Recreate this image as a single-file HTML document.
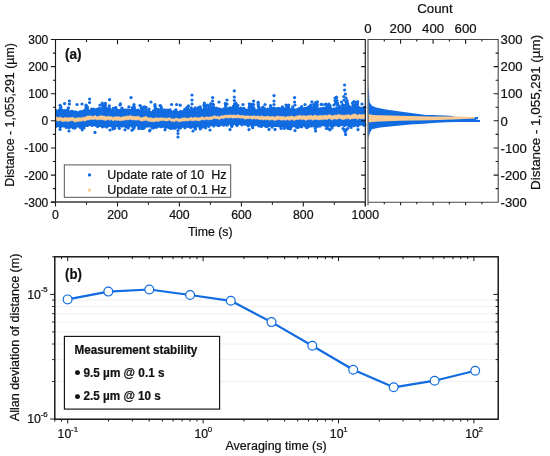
<!DOCTYPE html>
<html lang="en"><head><meta charset="utf-8"><title>Figure</title>
<style>
html,body{margin:0;padding:0;background:#fff;}
body{width:550px;height:456px;overflow:hidden;}
svg{display:block;font-family:"Liberation Sans", sans-serif;}
text{fill:#111;stroke:#111;stroke-width:0.22px;}
.t12{font-size:12px;}
.b{font-weight:bold;}
</style></head><body>
<svg width="550" height="456" viewBox="0 0 550 456">
<rect width="550" height="456" fill="#fff"/>

<clipPath id="ca"><rect x="55.5" y="39.5" width="311.3" height="162.7"/></clipPath>
<g clip-path="url(#ca)">
<polygon points="56.0,110.9 57.5,110.7 59.0,110.8 60.5,111.0 62.0,111.0 63.5,111.5 65.0,111.1 66.5,111.7 68.0,111.8 69.5,111.7 71.0,112.0 72.5,112.0 74.0,111.9 75.5,112.4 77.0,111.9 78.5,112.2 80.0,112.4 81.5,112.1 83.0,111.2 84.5,111.2 86.0,110.9 87.5,111.1 89.0,110.6 90.5,109.9 92.0,109.7 93.5,109.7 95.0,110.5 96.5,109.9 98.0,109.9 99.5,110.5 101.0,110.2 102.5,110.4 104.0,110.3 105.5,110.8 107.0,111.0 108.5,111.1 110.0,111.3 111.5,111.5 113.0,110.8 114.5,111.2 116.0,111.6 117.5,110.8 119.0,111.4 120.5,110.9 122.0,110.5 123.5,110.6 125.0,110.7 126.5,110.8 128.0,110.7 129.5,110.9 131.0,110.1 132.5,110.1 134.0,110.3 135.5,110.7 137.0,111.1 138.5,110.8 140.0,110.7 141.5,110.8 143.0,110.9 144.5,111.0 146.0,111.4 147.5,111.2 149.0,111.5 150.5,111.7 152.0,112.1 153.5,111.5 155.0,111.9 156.5,111.5 158.0,111.6 159.5,111.7 161.0,111.7 162.5,111.5 164.0,112.0 165.5,111.6 167.0,112.3 168.5,112.6 170.0,112.2 171.5,112.4 173.0,111.9 174.5,111.8 176.0,112.1 177.5,111.7 179.0,111.8 180.5,112.0 182.0,112.1 183.5,112.1 185.0,111.6 186.5,111.7 188.0,111.6 189.5,111.7 191.0,111.9 192.5,111.0 194.0,111.3 195.5,111.8 197.0,111.2 198.5,111.5 200.0,110.9 201.5,110.5 203.0,110.4 204.5,110.5 206.0,110.3 207.5,110.2 209.0,110.2 210.5,110.2 212.0,110.2 213.5,110.0 215.0,110.0 216.5,110.3 218.0,109.4 219.5,109.9 221.0,110.0 222.5,109.6 224.0,109.4 225.5,109.1 227.0,109.6 228.5,109.0 230.0,108.5 231.5,109.1 233.0,108.6 234.5,108.6 236.0,108.9 237.5,109.3 239.0,109.3 240.5,108.7 242.0,109.7 243.5,108.9 245.0,109.3 246.5,109.8 248.0,109.1 249.5,109.5 251.0,109.2 252.5,109.7 254.0,110.1 255.5,109.7 257.0,110.0 258.5,109.7 260.0,109.6 261.5,109.9 263.0,109.5 264.5,108.9 266.0,109.7 267.5,109.6 269.0,108.7 270.5,109.6 272.0,109.5 273.5,108.9 275.0,109.0 276.5,109.1 278.0,109.0 279.5,109.2 281.0,109.5 282.5,109.2 284.0,109.6 285.5,109.3 287.0,109.4 288.5,109.1 290.0,109.7 291.5,109.4 293.0,109.1 294.5,109.2 296.0,109.4 297.5,108.7 299.0,109.2 300.5,109.2 302.0,108.8 303.5,108.7 305.0,109.0 306.5,109.0 308.0,109.4 309.5,109.3 311.0,109.2 312.5,108.6 314.0,108.5 315.5,108.9 317.0,109.2 318.5,109.0 320.0,109.1 321.5,108.5 323.0,108.8 324.5,108.4 326.0,108.5 327.5,108.3 329.0,108.2 330.5,108.7 332.0,109.0 333.5,108.4 335.0,108.5 336.5,108.5 338.0,108.2 339.5,108.6 341.0,108.0 342.5,108.1 344.0,108.3 345.5,107.9 347.0,107.9 348.5,108.5 350.0,108.3 351.5,107.8 353.0,107.7 354.5,107.6 356.0,108.1 357.5,108.3 359.0,108.1 360.5,107.5 362.0,107.8 363.5,108.1 365.0,107.9 365.0,124.2 363.5,124.6 362.0,124.3 360.5,125.0 359.0,125.1 357.5,125.3 356.0,124.7 354.5,125.1 353.0,125.4 351.5,125.1 350.0,125.3 348.5,125.1 347.0,125.3 345.5,125.5 344.0,125.0 342.5,125.4 341.0,124.8 339.5,124.7 338.0,125.1 336.5,125.3 335.0,125.8 333.5,125.1 332.0,125.7 330.5,125.5 329.0,125.6 327.5,125.6 326.0,125.2 324.5,125.7 323.0,125.5 321.5,125.1 320.0,125.4 318.5,125.6 317.0,125.3 315.5,125.8 314.0,125.4 312.5,125.5 311.0,125.4 309.5,125.5 308.0,126.1 306.5,125.4 305.0,125.4 303.5,125.8 302.0,126.2 300.5,125.9 299.0,125.8 297.5,126.4 296.0,126.5 294.5,126.0 293.0,126.5 291.5,126.5 290.0,126.7 288.5,126.2 287.0,126.4 285.5,126.7 284.0,126.0 282.5,126.2 281.0,126.1 279.5,126.2 278.0,126.5 276.5,126.3 275.0,126.2 273.5,125.9 272.0,126.5 270.5,126.1 269.0,125.8 267.5,125.6 266.0,125.9 264.5,126.2 263.0,125.6 261.5,125.8 260.0,125.2 258.5,125.2 257.0,125.0 255.5,125.4 254.0,125.3 252.5,125.4 251.0,125.1 249.5,124.6 248.0,125.2 246.5,124.9 245.0,125.0 243.5,124.5 242.0,124.2 240.5,124.2 239.0,124.2 237.5,124.8 236.0,123.9 234.5,124.0 233.0,123.8 231.5,124.3 230.0,124.0 228.5,124.0 227.0,124.6 225.5,124.4 224.0,124.6 222.5,124.9 221.0,124.9 219.5,124.8 218.0,125.0 216.5,125.4 215.0,125.3 213.5,125.3 212.0,125.5 210.5,125.1 209.0,125.7 207.5,125.3 206.0,125.5 204.5,126.2 203.0,126.5 201.5,126.4 200.0,126.7 198.5,126.1 197.0,126.2 195.5,126.8 194.0,126.5 192.5,126.7 191.0,126.8 189.5,126.5 188.0,127.2 186.5,126.6 185.0,127.2 183.5,126.9 182.0,126.7 180.5,127.1 179.0,127.5 177.5,127.5 176.0,126.9 174.5,127.7 173.0,126.9 171.5,127.7 170.0,127.6 168.5,126.9 167.0,127.4 165.5,126.8 164.0,126.7 162.5,127.1 161.0,127.6 159.5,126.9 158.0,126.7 156.5,126.7 155.0,127.3 153.5,127.4 152.0,127.1 150.5,126.5 149.0,126.7 147.5,126.5 146.0,126.8 144.5,127.0 143.0,126.1 141.5,126.3 140.0,126.1 138.5,126.3 137.0,125.6 135.5,126.0 134.0,126.3 132.5,125.9 131.0,125.6 129.5,125.4 128.0,125.7 126.5,126.2 125.0,125.6 123.5,126.0 122.0,125.5 120.5,126.1 119.0,126.0 117.5,126.4 116.0,126.3 114.5,126.0 113.0,126.7 111.5,126.5 110.0,126.0 108.5,126.5 107.0,126.5 105.5,126.5 104.0,125.5 102.5,126.2 101.0,126.0 99.5,126.1 98.0,126.0 96.5,125.3 95.0,125.9 93.5,125.0 92.0,124.8 90.5,125.3 89.0,125.3 87.5,126.2 86.0,126.3 84.5,126.5 83.0,126.4 81.5,126.7 80.0,126.8 78.5,126.8 77.0,126.8 75.5,127.4 74.0,127.2 72.5,127.1 71.0,127.3 69.5,127.2 68.0,126.9 66.5,126.8 65.0,126.4 63.5,126.8 62.0,126.2 60.5,126.6 59.0,126.0 57.5,126.3 56.0,125.9" fill="#116be1" stroke="#116be1" stroke-width="1.6" stroke-linejoin="round"/>
<g fill="#116be1">
<circle cx="131.0" cy="97.6" r="1.6"/>
<circle cx="89.6" cy="99.0" r="1.6"/>
<circle cx="89.6" cy="102.5" r="1.6"/>
<circle cx="109.6" cy="99.6" r="1.6"/>
<circle cx="69.4" cy="101.0" r="1.6"/>
<circle cx="69.4" cy="104.0" r="1.6"/>
<circle cx="64.6" cy="103.6" r="1.6"/>
<circle cx="151.0" cy="102.0" r="1.6"/>
<circle cx="82.0" cy="104.0" r="1.6"/>
<circle cx="77.0" cy="104.5" r="1.6"/>
<circle cx="100.0" cy="105.0" r="1.6"/>
<circle cx="120.0" cy="105.0" r="1.6"/>
<circle cx="140.0" cy="105.5" r="1.6"/>
<circle cx="192.0" cy="95.0" r="1.6"/>
<circle cx="192.0" cy="100.0" r="1.6"/>
<circle cx="192.0" cy="104.0" r="1.6"/>
<circle cx="212.6" cy="97.6" r="1.6"/>
<circle cx="212.6" cy="101.0" r="1.6"/>
<circle cx="213.0" cy="104.5" r="1.6"/>
<circle cx="219.0" cy="102.0" r="1.6"/>
<circle cx="227.0" cy="100.0" r="1.6"/>
<circle cx="227.0" cy="104.0" r="1.6"/>
<circle cx="234.3" cy="90.8" r="1.6"/>
<circle cx="234.3" cy="97.0" r="1.6"/>
<circle cx="234.3" cy="100.5" r="1.6"/>
<circle cx="234.5" cy="104.0" r="1.6"/>
<circle cx="253.6" cy="101.0" r="1.6"/>
<circle cx="253.6" cy="104.5" r="1.6"/>
<circle cx="171.6" cy="104.5" r="1.6"/>
<circle cx="176.6" cy="104.5" r="1.6"/>
<circle cx="160.0" cy="105.5" r="1.6"/>
<circle cx="204.0" cy="105.0" r="1.6"/>
<circle cx="243.0" cy="104.5" r="1.6"/>
<circle cx="274.0" cy="95.6" r="1.6"/>
<circle cx="274.0" cy="101.0" r="1.6"/>
<circle cx="274.0" cy="104.5" r="1.6"/>
<circle cx="294.6" cy="97.6" r="1.6"/>
<circle cx="294.6" cy="102.0" r="1.6"/>
<circle cx="295.0" cy="105.0" r="1.6"/>
<circle cx="315.6" cy="102.5" r="1.6"/>
<circle cx="315.6" cy="105.0" r="1.6"/>
<circle cx="336.6" cy="97.0" r="1.6"/>
<circle cx="336.6" cy="101.0" r="1.6"/>
<circle cx="337.0" cy="104.5" r="1.6"/>
<circle cx="344.6" cy="85.0" r="1.6"/>
<circle cx="344.6" cy="90.0" r="1.6"/>
<circle cx="345.4" cy="94.0" r="1.6"/>
<circle cx="346.0" cy="98.0" r="1.6"/>
<circle cx="346.0" cy="102.0" r="1.6"/>
<circle cx="345.5" cy="105.0" r="1.6"/>
<circle cx="286.0" cy="105.0" r="1.6"/>
<circle cx="354.0" cy="102.0" r="1.6"/>
<circle cx="357.6" cy="102.0" r="1.6"/>
<circle cx="354.0" cy="105.0" r="1.6"/>
<circle cx="362.0" cy="104.0" r="1.6"/>
<circle cx="325.0" cy="104.5" r="1.6"/>
<circle cx="305.0" cy="104.5" r="1.6"/>
<circle cx="265.0" cy="104.5" r="1.6"/>
<circle cx="335.0" cy="98.0" r="1.6"/>
<circle cx="336.5" cy="97.5" r="1.6"/>
<circle cx="335.0" cy="100.5" r="1.6"/>
<circle cx="337.0" cy="100.5" r="1.6"/>
<circle cx="335.5" cy="103.0" r="1.6"/>
<circle cx="337.5" cy="103.0" r="1.6"/>
<circle cx="334.0" cy="105.0" r="1.6"/>
<circle cx="338.0" cy="105.0" r="1.6"/>
<circle cx="341.5" cy="102.0" r="1.6"/>
<circle cx="342.5" cy="104.5" r="1.6"/>
<circle cx="344.0" cy="100.0" r="1.6"/>
<circle cx="347.0" cy="100.5" r="1.6"/>
<circle cx="347.5" cy="103.5" r="1.6"/>
<circle cx="343.8" cy="96.5" r="1.6"/>
<circle cx="352.5" cy="103.0" r="1.6"/>
<circle cx="354.0" cy="101.5" r="1.6"/>
<circle cx="356.0" cy="102.5" r="1.6"/>
<circle cx="357.5" cy="101.8" r="1.6"/>
<circle cx="353.0" cy="105.0" r="1.6"/>
<circle cx="356.5" cy="105.0" r="1.6"/>
<circle cx="326.0" cy="104.0" r="1.6"/>
<circle cx="327.5" cy="105.5" r="1.6"/>
<circle cx="322.0" cy="104.5" r="1.6"/>
<circle cx="330.0" cy="105.5" r="1.6"/>
<circle cx="344.0" cy="129.5" r="1.6"/>
<circle cx="345.0" cy="131.5" r="1.6"/>
<circle cx="346.5" cy="129.5" r="1.6"/>
<circle cx="343.0" cy="128.5" r="1.6"/>
<circle cx="347.5" cy="128.5" r="1.6"/>
<circle cx="326.5" cy="128.5" r="1.6"/>
<circle cx="329.0" cy="129.0" r="1.6"/>
<circle cx="95.0" cy="132.4" r="1.6"/>
<circle cx="69.0" cy="131.0" r="1.6"/>
<circle cx="125.0" cy="129.8" r="1.6"/>
<circle cx="132.0" cy="130.2" r="1.6"/>
<circle cx="178.0" cy="137.0" r="1.6"/>
<circle cx="178.0" cy="133.5" r="1.6"/>
<circle cx="178.0" cy="130.5" r="1.6"/>
<circle cx="193.0" cy="131.0" r="1.6"/>
<circle cx="249.0" cy="129.6" r="1.6"/>
<circle cx="345.6" cy="134.4" r="1.6"/>
<circle cx="345.6" cy="131.0" r="1.6"/>
<circle cx="295.0" cy="130.6" r="1.6"/>
<circle cx="315.6" cy="131.0" r="1.6"/>
<circle cx="269.0" cy="129.4" r="1.6"/>
<circle cx="275.0" cy="129.4" r="1.6"/>
<circle cx="110.0" cy="130.0" r="1.6"/>
<circle cx="150.0" cy="130.0" r="1.6"/>
<circle cx="165.0" cy="129.8" r="1.6"/>
<circle cx="210.0" cy="130.0" r="1.6"/>
<circle cx="230.0" cy="129.6" r="1.6"/>
<circle cx="330.0" cy="129.8" r="1.6"/>
<circle cx="358.0" cy="129.6" r="1.6"/>
<circle cx="60.0" cy="129.5" r="1.6"/>
<circle cx="55.7" cy="110.3" r="1.6"/>
<circle cx="55.9" cy="126.5" r="1.6"/>
<circle cx="59.3" cy="110.2" r="1.6"/>
<circle cx="60.6" cy="110.4" r="1.6"/>
<circle cx="60.4" cy="108.7" r="1.6"/>
<circle cx="60.9" cy="107.0" r="1.6"/>
<circle cx="60.1" cy="105.3" r="1.6"/>
<circle cx="60.3" cy="127.2" r="1.6"/>
<circle cx="62.3" cy="110.4" r="1.6"/>
<circle cx="63.5" cy="110.9" r="1.6"/>
<circle cx="64.9" cy="110.5" r="1.6"/>
<circle cx="66.7" cy="111.1" r="1.6"/>
<circle cx="66.3" cy="127.4" r="1.6"/>
<circle cx="68.2" cy="111.2" r="1.6"/>
<circle cx="67.8" cy="109.5" r="1.6"/>
<circle cx="68.4" cy="107.8" r="1.6"/>
<circle cx="69.1" cy="127.8" r="1.6"/>
<circle cx="71.3" cy="111.4" r="1.6"/>
<circle cx="72.5" cy="111.4" r="1.6"/>
<circle cx="72.9" cy="127.7" r="1.6"/>
<circle cx="74.1" cy="127.8" r="1.6"/>
<circle cx="75.4" cy="111.8" r="1.6"/>
<circle cx="75.1" cy="128.0" r="1.6"/>
<circle cx="80.0" cy="111.8" r="1.6"/>
<circle cx="80.3" cy="127.4" r="1.6"/>
<circle cx="81.4" cy="111.5" r="1.6"/>
<circle cx="81.9" cy="127.3" r="1.6"/>
<circle cx="84.1" cy="110.6" r="1.6"/>
<circle cx="86.2" cy="110.3" r="1.6"/>
<circle cx="86.0" cy="108.6" r="1.6"/>
<circle cx="86.1" cy="106.9" r="1.6"/>
<circle cx="86.1" cy="105.2" r="1.6"/>
<circle cx="87.7" cy="110.5" r="1.6"/>
<circle cx="87.4" cy="108.8" r="1.6"/>
<circle cx="87.4" cy="107.1" r="1.6"/>
<circle cx="91.6" cy="109.1" r="1.6"/>
<circle cx="92.1" cy="125.4" r="1.6"/>
<circle cx="93.4" cy="109.1" r="1.6"/>
<circle cx="95.0" cy="109.9" r="1.6"/>
<circle cx="96.8" cy="109.3" r="1.6"/>
<circle cx="97.7" cy="109.3" r="1.6"/>
<circle cx="97.6" cy="126.6" r="1.6"/>
<circle cx="99.7" cy="109.9" r="1.6"/>
<circle cx="99.3" cy="108.2" r="1.6"/>
<circle cx="101.2" cy="109.6" r="1.6"/>
<circle cx="102.8" cy="109.8" r="1.6"/>
<circle cx="102.7" cy="108.1" r="1.6"/>
<circle cx="102.8" cy="106.4" r="1.6"/>
<circle cx="102.7" cy="104.7" r="1.6"/>
<circle cx="102.3" cy="103.0" r="1.6"/>
<circle cx="102.4" cy="126.8" r="1.6"/>
<circle cx="103.8" cy="109.7" r="1.6"/>
<circle cx="104.4" cy="126.1" r="1.6"/>
<circle cx="105.9" cy="110.2" r="1.6"/>
<circle cx="105.4" cy="108.5" r="1.6"/>
<circle cx="105.3" cy="106.8" r="1.6"/>
<circle cx="105.3" cy="105.1" r="1.6"/>
<circle cx="105.3" cy="103.4" r="1.6"/>
<circle cx="107.0" cy="110.4" r="1.6"/>
<circle cx="107.1" cy="108.7" r="1.6"/>
<circle cx="106.7" cy="127.1" r="1.6"/>
<circle cx="108.7" cy="110.5" r="1.6"/>
<circle cx="108.5" cy="108.8" r="1.6"/>
<circle cx="110.4" cy="110.7" r="1.6"/>
<circle cx="109.9" cy="109.0" r="1.6"/>
<circle cx="112.7" cy="110.2" r="1.6"/>
<circle cx="113.3" cy="108.5" r="1.6"/>
<circle cx="113.1" cy="127.3" r="1.6"/>
<circle cx="112.9" cy="129.0" r="1.6"/>
<circle cx="114.6" cy="126.6" r="1.6"/>
<circle cx="114.5" cy="128.3" r="1.6"/>
<circle cx="116.3" cy="111.0" r="1.6"/>
<circle cx="115.8" cy="109.3" r="1.6"/>
<circle cx="115.8" cy="107.6" r="1.6"/>
<circle cx="117.4" cy="110.2" r="1.6"/>
<circle cx="119.1" cy="110.8" r="1.6"/>
<circle cx="118.9" cy="126.6" r="1.6"/>
<circle cx="119.3" cy="128.3" r="1.6"/>
<circle cx="120.1" cy="110.3" r="1.6"/>
<circle cx="121.7" cy="109.9" r="1.6"/>
<circle cx="122.0" cy="108.2" r="1.6"/>
<circle cx="122.0" cy="126.1" r="1.6"/>
<circle cx="123.7" cy="110.0" r="1.6"/>
<circle cx="125.2" cy="110.1" r="1.6"/>
<circle cx="125.0" cy="126.2" r="1.6"/>
<circle cx="126.6" cy="110.2" r="1.6"/>
<circle cx="126.5" cy="126.8" r="1.6"/>
<circle cx="128.0" cy="110.1" r="1.6"/>
<circle cx="128.2" cy="126.3" r="1.6"/>
<circle cx="128.3" cy="128.0" r="1.6"/>
<circle cx="129.9" cy="110.3" r="1.6"/>
<circle cx="129.2" cy="126.0" r="1.6"/>
<circle cx="132.8" cy="109.5" r="1.6"/>
<circle cx="132.2" cy="107.8" r="1.6"/>
<circle cx="132.6" cy="126.5" r="1.6"/>
<circle cx="133.8" cy="109.7" r="1.6"/>
<circle cx="134.4" cy="108.0" r="1.6"/>
<circle cx="133.9" cy="106.3" r="1.6"/>
<circle cx="134.0" cy="104.6" r="1.6"/>
<circle cx="134.3" cy="126.9" r="1.6"/>
<circle cx="133.7" cy="128.6" r="1.6"/>
<circle cx="135.3" cy="110.1" r="1.6"/>
<circle cx="137.0" cy="110.5" r="1.6"/>
<circle cx="138.2" cy="110.2" r="1.6"/>
<circle cx="138.7" cy="126.9" r="1.6"/>
<circle cx="138.9" cy="128.6" r="1.6"/>
<circle cx="139.8" cy="126.7" r="1.6"/>
<circle cx="141.8" cy="110.2" r="1.6"/>
<circle cx="141.3" cy="108.5" r="1.6"/>
<circle cx="141.2" cy="106.8" r="1.6"/>
<circle cx="141.6" cy="126.9" r="1.6"/>
<circle cx="141.7" cy="128.6" r="1.6"/>
<circle cx="142.9" cy="110.3" r="1.6"/>
<circle cx="142.7" cy="108.6" r="1.6"/>
<circle cx="143.1" cy="126.7" r="1.6"/>
<circle cx="143.2" cy="128.4" r="1.6"/>
<circle cx="144.5" cy="127.6" r="1.6"/>
<circle cx="145.8" cy="110.8" r="1.6"/>
<circle cx="145.7" cy="109.1" r="1.6"/>
<circle cx="146.0" cy="107.4" r="1.6"/>
<circle cx="148.8" cy="110.9" r="1.6"/>
<circle cx="149.0" cy="109.2" r="1.6"/>
<circle cx="152.3" cy="127.7" r="1.6"/>
<circle cx="153.5" cy="110.9" r="1.6"/>
<circle cx="153.4" cy="128.0" r="1.6"/>
<circle cx="154.9" cy="111.3" r="1.6"/>
<circle cx="155.3" cy="109.6" r="1.6"/>
<circle cx="155.2" cy="107.9" r="1.6"/>
<circle cx="155.1" cy="106.2" r="1.6"/>
<circle cx="154.9" cy="104.5" r="1.6"/>
<circle cx="156.3" cy="127.3" r="1.6"/>
<circle cx="158.3" cy="111.0" r="1.6"/>
<circle cx="158.1" cy="109.3" r="1.6"/>
<circle cx="159.2" cy="111.1" r="1.6"/>
<circle cx="161.0" cy="111.1" r="1.6"/>
<circle cx="160.8" cy="109.4" r="1.6"/>
<circle cx="161.4" cy="107.7" r="1.6"/>
<circle cx="160.8" cy="106.0" r="1.6"/>
<circle cx="162.5" cy="110.9" r="1.6"/>
<circle cx="163.7" cy="111.4" r="1.6"/>
<circle cx="165.3" cy="111.0" r="1.6"/>
<circle cx="165.5" cy="127.4" r="1.6"/>
<circle cx="167.3" cy="111.7" r="1.6"/>
<circle cx="166.9" cy="110.0" r="1.6"/>
<circle cx="168.6" cy="112.0" r="1.6"/>
<circle cx="168.1" cy="110.3" r="1.6"/>
<circle cx="168.8" cy="127.5" r="1.6"/>
<circle cx="169.7" cy="111.6" r="1.6"/>
<circle cx="170.0" cy="109.9" r="1.6"/>
<circle cx="170.3" cy="128.2" r="1.6"/>
<circle cx="171.8" cy="111.8" r="1.6"/>
<circle cx="171.7" cy="128.3" r="1.6"/>
<circle cx="174.6" cy="111.2" r="1.6"/>
<circle cx="174.6" cy="128.3" r="1.6"/>
<circle cx="176.2" cy="111.5" r="1.6"/>
<circle cx="176.0" cy="109.8" r="1.6"/>
<circle cx="176.1" cy="127.5" r="1.6"/>
<circle cx="179.4" cy="128.1" r="1.6"/>
<circle cx="180.6" cy="111.4" r="1.6"/>
<circle cx="180.6" cy="127.7" r="1.6"/>
<circle cx="183.1" cy="111.5" r="1.6"/>
<circle cx="185.1" cy="111.0" r="1.6"/>
<circle cx="184.8" cy="109.3" r="1.6"/>
<circle cx="185.0" cy="127.8" r="1.6"/>
<circle cx="186.3" cy="111.1" r="1.6"/>
<circle cx="186.9" cy="109.4" r="1.6"/>
<circle cx="186.8" cy="107.7" r="1.6"/>
<circle cx="188.0" cy="111.0" r="1.6"/>
<circle cx="187.8" cy="109.3" r="1.6"/>
<circle cx="187.8" cy="107.6" r="1.6"/>
<circle cx="188.4" cy="105.9" r="1.6"/>
<circle cx="189.9" cy="111.1" r="1.6"/>
<circle cx="191.2" cy="111.3" r="1.6"/>
<circle cx="190.8" cy="109.6" r="1.6"/>
<circle cx="191.3" cy="107.9" r="1.6"/>
<circle cx="190.6" cy="127.4" r="1.6"/>
<circle cx="192.3" cy="110.4" r="1.6"/>
<circle cx="193.6" cy="110.7" r="1.6"/>
<circle cx="194.2" cy="109.0" r="1.6"/>
<circle cx="193.7" cy="127.1" r="1.6"/>
<circle cx="195.3" cy="111.2" r="1.6"/>
<circle cx="195.4" cy="109.5" r="1.6"/>
<circle cx="195.4" cy="107.8" r="1.6"/>
<circle cx="195.6" cy="127.4" r="1.6"/>
<circle cx="195.4" cy="129.1" r="1.6"/>
<circle cx="198.3" cy="110.9" r="1.6"/>
<circle cx="198.3" cy="109.2" r="1.6"/>
<circle cx="198.5" cy="107.5" r="1.6"/>
<circle cx="200.2" cy="110.3" r="1.6"/>
<circle cx="200.1" cy="108.6" r="1.6"/>
<circle cx="200.3" cy="106.9" r="1.6"/>
<circle cx="200.0" cy="127.3" r="1.6"/>
<circle cx="200.2" cy="129.0" r="1.6"/>
<circle cx="201.7" cy="109.9" r="1.6"/>
<circle cx="201.3" cy="127.0" r="1.6"/>
<circle cx="202.9" cy="127.1" r="1.6"/>
<circle cx="204.3" cy="109.9" r="1.6"/>
<circle cx="204.6" cy="108.2" r="1.6"/>
<circle cx="204.3" cy="106.5" r="1.6"/>
<circle cx="204.5" cy="104.8" r="1.6"/>
<circle cx="204.4" cy="103.1" r="1.6"/>
<circle cx="206.0" cy="109.7" r="1.6"/>
<circle cx="205.8" cy="108.0" r="1.6"/>
<circle cx="206.3" cy="106.3" r="1.6"/>
<circle cx="206.0" cy="126.1" r="1.6"/>
<circle cx="205.7" cy="127.8" r="1.6"/>
<circle cx="207.2" cy="109.6" r="1.6"/>
<circle cx="209.2" cy="109.6" r="1.6"/>
<circle cx="208.9" cy="107.9" r="1.6"/>
<circle cx="208.9" cy="106.2" r="1.6"/>
<circle cx="208.9" cy="126.3" r="1.6"/>
<circle cx="210.9" cy="109.6" r="1.6"/>
<circle cx="211.8" cy="109.6" r="1.6"/>
<circle cx="211.8" cy="107.9" r="1.6"/>
<circle cx="213.8" cy="109.4" r="1.6"/>
<circle cx="213.8" cy="107.7" r="1.6"/>
<circle cx="213.1" cy="106.0" r="1.6"/>
<circle cx="213.1" cy="104.3" r="1.6"/>
<circle cx="213.8" cy="125.9" r="1.6"/>
<circle cx="216.9" cy="109.7" r="1.6"/>
<circle cx="216.3" cy="108.0" r="1.6"/>
<circle cx="218.4" cy="108.8" r="1.6"/>
<circle cx="218.1" cy="125.6" r="1.6"/>
<circle cx="219.1" cy="109.3" r="1.6"/>
<circle cx="219.3" cy="125.4" r="1.6"/>
<circle cx="220.7" cy="109.4" r="1.6"/>
<circle cx="223.8" cy="108.8" r="1.6"/>
<circle cx="223.6" cy="125.2" r="1.6"/>
<circle cx="225.6" cy="108.5" r="1.6"/>
<circle cx="225.8" cy="106.8" r="1.6"/>
<circle cx="225.5" cy="105.1" r="1.6"/>
<circle cx="225.3" cy="103.4" r="1.6"/>
<circle cx="226.6" cy="109.0" r="1.6"/>
<circle cx="227.1" cy="125.2" r="1.6"/>
<circle cx="228.8" cy="108.4" r="1.6"/>
<circle cx="230.1" cy="107.9" r="1.6"/>
<circle cx="231.3" cy="108.5" r="1.6"/>
<circle cx="231.3" cy="124.9" r="1.6"/>
<circle cx="231.8" cy="126.6" r="1.6"/>
<circle cx="232.8" cy="108.0" r="1.6"/>
<circle cx="233.4" cy="106.3" r="1.6"/>
<circle cx="232.7" cy="124.4" r="1.6"/>
<circle cx="234.9" cy="108.0" r="1.6"/>
<circle cx="235.7" cy="108.3" r="1.6"/>
<circle cx="235.6" cy="106.6" r="1.6"/>
<circle cx="235.6" cy="104.9" r="1.6"/>
<circle cx="235.9" cy="103.2" r="1.6"/>
<circle cx="236.3" cy="124.5" r="1.6"/>
<circle cx="237.4" cy="108.7" r="1.6"/>
<circle cx="237.2" cy="107.0" r="1.6"/>
<circle cx="237.8" cy="105.3" r="1.6"/>
<circle cx="237.1" cy="125.4" r="1.6"/>
<circle cx="238.9" cy="108.7" r="1.6"/>
<circle cx="240.9" cy="108.1" r="1.6"/>
<circle cx="242.3" cy="109.1" r="1.6"/>
<circle cx="241.9" cy="124.8" r="1.6"/>
<circle cx="243.8" cy="108.3" r="1.6"/>
<circle cx="248.3" cy="125.8" r="1.6"/>
<circle cx="249.6" cy="108.9" r="1.6"/>
<circle cx="249.3" cy="107.2" r="1.6"/>
<circle cx="249.7" cy="105.5" r="1.6"/>
<circle cx="249.4" cy="103.8" r="1.6"/>
<circle cx="251.1" cy="108.6" r="1.6"/>
<circle cx="251.4" cy="106.9" r="1.6"/>
<circle cx="250.6" cy="105.2" r="1.6"/>
<circle cx="252.4" cy="109.1" r="1.6"/>
<circle cx="252.3" cy="107.4" r="1.6"/>
<circle cx="252.4" cy="105.7" r="1.6"/>
<circle cx="252.5" cy="104.0" r="1.6"/>
<circle cx="252.2" cy="126.0" r="1.6"/>
<circle cx="252.7" cy="127.7" r="1.6"/>
<circle cx="254.1" cy="109.5" r="1.6"/>
<circle cx="253.9" cy="107.8" r="1.6"/>
<circle cx="258.8" cy="109.1" r="1.6"/>
<circle cx="258.9" cy="107.4" r="1.6"/>
<circle cx="258.3" cy="105.7" r="1.6"/>
<circle cx="258.2" cy="104.0" r="1.6"/>
<circle cx="258.2" cy="102.3" r="1.6"/>
<circle cx="258.7" cy="125.8" r="1.6"/>
<circle cx="260.1" cy="109.0" r="1.6"/>
<circle cx="260.2" cy="125.8" r="1.6"/>
<circle cx="261.3" cy="126.4" r="1.6"/>
<circle cx="262.8" cy="108.9" r="1.6"/>
<circle cx="262.8" cy="107.2" r="1.6"/>
<circle cx="264.4" cy="108.3" r="1.6"/>
<circle cx="266.1" cy="126.5" r="1.6"/>
<circle cx="267.8" cy="109.0" r="1.6"/>
<circle cx="267.8" cy="126.2" r="1.6"/>
<circle cx="270.4" cy="109.0" r="1.6"/>
<circle cx="270.8" cy="107.3" r="1.6"/>
<circle cx="270.5" cy="105.6" r="1.6"/>
<circle cx="272.1" cy="127.1" r="1.6"/>
<circle cx="274.8" cy="108.4" r="1.6"/>
<circle cx="277.7" cy="108.4" r="1.6"/>
<circle cx="279.2" cy="108.6" r="1.6"/>
<circle cx="280.8" cy="108.9" r="1.6"/>
<circle cx="280.8" cy="126.7" r="1.6"/>
<circle cx="281.1" cy="128.4" r="1.6"/>
<circle cx="282.9" cy="108.6" r="1.6"/>
<circle cx="282.4" cy="106.9" r="1.6"/>
<circle cx="283.9" cy="126.6" r="1.6"/>
<circle cx="284.3" cy="128.3" r="1.6"/>
<circle cx="285.2" cy="108.7" r="1.6"/>
<circle cx="286.7" cy="108.8" r="1.6"/>
<circle cx="287.1" cy="107.1" r="1.6"/>
<circle cx="286.9" cy="105.4" r="1.6"/>
<circle cx="286.7" cy="127.0" r="1.6"/>
<circle cx="288.2" cy="108.5" r="1.6"/>
<circle cx="288.5" cy="106.8" r="1.6"/>
<circle cx="288.7" cy="105.1" r="1.6"/>
<circle cx="288.3" cy="126.8" r="1.6"/>
<circle cx="288.2" cy="128.5" r="1.6"/>
<circle cx="289.6" cy="109.1" r="1.6"/>
<circle cx="289.9" cy="127.3" r="1.6"/>
<circle cx="290.3" cy="129.0" r="1.6"/>
<circle cx="291.3" cy="127.1" r="1.6"/>
<circle cx="292.7" cy="108.5" r="1.6"/>
<circle cx="292.8" cy="106.8" r="1.6"/>
<circle cx="296.2" cy="127.1" r="1.6"/>
<circle cx="297.5" cy="127.0" r="1.6"/>
<circle cx="299.1" cy="108.6" r="1.6"/>
<circle cx="300.1" cy="108.6" r="1.6"/>
<circle cx="300.5" cy="126.5" r="1.6"/>
<circle cx="302.0" cy="108.2" r="1.6"/>
<circle cx="301.7" cy="106.5" r="1.6"/>
<circle cx="301.7" cy="126.8" r="1.6"/>
<circle cx="304.7" cy="108.4" r="1.6"/>
<circle cx="305.2" cy="126.0" r="1.6"/>
<circle cx="306.4" cy="108.4" r="1.6"/>
<circle cx="306.2" cy="126.0" r="1.6"/>
<circle cx="306.8" cy="127.7" r="1.6"/>
<circle cx="307.8" cy="108.8" r="1.6"/>
<circle cx="308.4" cy="107.1" r="1.6"/>
<circle cx="308.4" cy="126.7" r="1.6"/>
<circle cx="309.8" cy="108.7" r="1.6"/>
<circle cx="309.2" cy="107.0" r="1.6"/>
<circle cx="310.8" cy="108.6" r="1.6"/>
<circle cx="311.3" cy="106.9" r="1.6"/>
<circle cx="310.7" cy="105.2" r="1.6"/>
<circle cx="311.3" cy="126.0" r="1.6"/>
<circle cx="312.4" cy="108.0" r="1.6"/>
<circle cx="314.1" cy="107.9" r="1.6"/>
<circle cx="314.3" cy="106.2" r="1.6"/>
<circle cx="313.7" cy="104.5" r="1.6"/>
<circle cx="313.7" cy="126.0" r="1.6"/>
<circle cx="315.8" cy="108.3" r="1.6"/>
<circle cx="315.6" cy="126.4" r="1.6"/>
<circle cx="317.1" cy="108.6" r="1.6"/>
<circle cx="316.9" cy="106.9" r="1.6"/>
<circle cx="317.2" cy="105.2" r="1.6"/>
<circle cx="316.8" cy="103.5" r="1.6"/>
<circle cx="317.4" cy="101.8" r="1.6"/>
<circle cx="316.9" cy="125.9" r="1.6"/>
<circle cx="318.1" cy="126.2" r="1.6"/>
<circle cx="320.4" cy="108.5" r="1.6"/>
<circle cx="320.1" cy="126.0" r="1.6"/>
<circle cx="323.3" cy="108.2" r="1.6"/>
<circle cx="325.8" cy="107.9" r="1.6"/>
<circle cx="326.1" cy="125.8" r="1.6"/>
<circle cx="327.2" cy="107.7" r="1.6"/>
<circle cx="327.3" cy="126.2" r="1.6"/>
<circle cx="327.2" cy="127.9" r="1.6"/>
<circle cx="329.2" cy="107.6" r="1.6"/>
<circle cx="328.9" cy="105.9" r="1.6"/>
<circle cx="328.8" cy="104.2" r="1.6"/>
<circle cx="330.6" cy="108.1" r="1.6"/>
<circle cx="331.6" cy="126.3" r="1.6"/>
<circle cx="332.0" cy="128.0" r="1.6"/>
<circle cx="333.1" cy="125.7" r="1.6"/>
<circle cx="336.8" cy="107.9" r="1.6"/>
<circle cx="338.2" cy="125.7" r="1.6"/>
<circle cx="339.7" cy="108.0" r="1.6"/>
<circle cx="339.5" cy="106.3" r="1.6"/>
<circle cx="339.5" cy="125.3" r="1.6"/>
<circle cx="342.8" cy="107.5" r="1.6"/>
<circle cx="342.7" cy="105.8" r="1.6"/>
<circle cx="344.0" cy="107.7" r="1.6"/>
<circle cx="343.8" cy="106.0" r="1.6"/>
<circle cx="344.4" cy="125.6" r="1.6"/>
<circle cx="347.2" cy="107.3" r="1.6"/>
<circle cx="346.9" cy="105.6" r="1.6"/>
<circle cx="347.3" cy="103.9" r="1.6"/>
<circle cx="346.9" cy="102.2" r="1.6"/>
<circle cx="348.6" cy="107.9" r="1.6"/>
<circle cx="348.9" cy="106.2" r="1.6"/>
<circle cx="348.8" cy="125.7" r="1.6"/>
<circle cx="350.2" cy="107.7" r="1.6"/>
<circle cx="349.8" cy="125.9" r="1.6"/>
<circle cx="351.2" cy="125.7" r="1.6"/>
<circle cx="351.1" cy="127.4" r="1.6"/>
<circle cx="352.7" cy="107.1" r="1.6"/>
<circle cx="354.7" cy="107.0" r="1.6"/>
<circle cx="354.2" cy="125.7" r="1.6"/>
<circle cx="356.3" cy="107.5" r="1.6"/>
<circle cx="356.3" cy="105.8" r="1.6"/>
<circle cx="357.2" cy="107.7" r="1.6"/>
<circle cx="357.3" cy="106.0" r="1.6"/>
<circle cx="357.2" cy="104.3" r="1.6"/>
<circle cx="357.1" cy="102.6" r="1.6"/>
<circle cx="357.7" cy="125.9" r="1.6"/>
<circle cx="358.8" cy="107.5" r="1.6"/>
<circle cx="363.9" cy="107.5" r="1.6"/>
<circle cx="363.8" cy="125.2" r="1.6"/>
<circle cx="364.9" cy="107.3" r="1.6"/>
<circle cx="364.9" cy="124.8" r="1.6"/>
<circle cx="273.0" cy="108.0" r="1.6"/>
<circle cx="321.2" cy="104.3" r="1.6"/>
<circle cx="109.6" cy="108.6" r="1.6"/>
<circle cx="290.6" cy="127.1" r="1.6"/>
<circle cx="207.6" cy="105.1" r="1.6"/>
<circle cx="113.9" cy="108.3" r="1.6"/>
<circle cx="311.9" cy="101.9" r="1.6"/>
<circle cx="144.3" cy="106.9" r="1.6"/>
<circle cx="209.9" cy="106.2" r="1.6"/>
<circle cx="82.2" cy="129.8" r="1.6"/>
<circle cx="298.1" cy="127.5" r="1.6"/>
<circle cx="180.2" cy="105.2" r="1.6"/>
<circle cx="83.9" cy="128.0" r="1.6"/>
<circle cx="120.5" cy="103.9" r="1.6"/>
<circle cx="210.8" cy="103.7" r="1.6"/>
<circle cx="128.9" cy="106.9" r="1.6"/>
<circle cx="288.2" cy="128.5" r="1.6"/>
<circle cx="164.1" cy="109.8" r="1.6"/>
<circle cx="315.3" cy="128.4" r="1.6"/>
<circle cx="109.3" cy="105.8" r="1.6"/>
<circle cx="234.6" cy="105.7" r="1.6"/>
<circle cx="328.2" cy="107.5" r="1.6"/>
<circle cx="149.7" cy="130.8" r="1.6"/>
<circle cx="104.8" cy="108.3" r="1.6"/>
<circle cx="157.4" cy="109.6" r="1.6"/>
</g>
<polygon points="56.0,116.7 57.5,117.4 59.0,117.5 60.5,117.0 62.0,118.0 63.5,118.0 65.0,117.5 66.5,117.6 68.0,118.1 69.5,117.6 71.0,117.8 72.5,117.2 74.0,118.1 75.5,118.2 77.0,118.0 78.5,117.8 80.0,117.8 81.5,117.9 83.0,116.9 84.5,117.6 86.0,116.6 87.5,116.1 89.0,116.0 90.5,115.9 92.0,116.2 93.5,116.5 95.0,115.3 96.5,116.6 98.0,116.8 99.5,116.1 101.0,115.6 102.5,116.1 104.0,116.1 105.5,116.6 107.0,116.9 108.5,116.1 110.0,117.0 111.5,116.5 113.0,117.5 114.5,116.7 116.0,116.8 117.5,116.7 119.0,116.8 120.5,117.3 122.0,117.1 123.5,116.6 125.0,116.7 126.5,115.9 128.0,116.3 129.5,115.8 131.0,115.8 132.5,116.3 134.0,116.4 135.5,116.6 137.0,116.5 138.5,116.0 140.0,117.4 141.5,117.7 143.0,117.3 144.5,116.8 146.0,116.3 147.5,117.5 149.0,117.9 150.5,117.7 152.0,118.1 153.5,118.6 155.0,118.0 156.5,117.8 158.0,118.1 159.5,118.1 161.0,117.8 162.5,118.1 164.0,118.0 165.5,118.2 167.0,118.2 168.5,117.9 170.0,117.7 171.5,119.1 173.0,118.8 174.5,118.9 176.0,117.9 177.5,118.5 179.0,119.1 180.5,118.8 182.0,117.9 183.5,117.9 185.0,117.7 186.5,118.4 188.0,118.1 189.5,118.2 191.0,117.1 192.5,118.2 194.0,117.3 195.5,117.5 197.0,117.7 198.5,117.8 200.0,117.8 201.5,116.8 203.0,116.9 204.5,117.8 206.0,116.8 207.5,117.1 209.0,117.2 210.5,116.8 212.0,116.7 213.5,116.0 215.0,115.8 216.5,116.5 218.0,116.0 219.5,117.1 221.0,115.7 222.5,115.8 224.0,115.6 225.5,115.0 227.0,115.3 228.5,115.1 230.0,114.9 231.5,115.2 233.0,115.1 234.5,115.1 236.0,115.4 237.5,114.8 239.0,115.1 240.5,115.7 242.0,115.3 243.5,115.8 245.0,116.0 246.5,115.9 248.0,115.7 249.5,116.2 251.0,115.9 252.5,116.3 254.0,115.4 255.5,116.4 257.0,116.1 258.5,115.9 260.0,116.7 261.5,115.7 263.0,116.5 264.5,116.6 266.0,116.8 267.5,116.0 269.0,116.5 270.5,116.8 272.0,116.5 273.5,116.4 275.0,117.2 276.5,116.2 278.0,116.1 279.5,116.4 281.0,116.5 282.5,116.6 284.0,116.6 285.5,117.3 287.0,116.5 288.5,116.4 290.0,116.6 291.5,115.8 293.0,116.6 294.5,117.0 296.0,115.9 297.5,116.0 299.0,115.5 300.5,115.4 302.0,116.2 303.5,115.4 305.0,116.0 306.5,116.1 308.0,115.4 309.5,115.8 311.0,115.1 312.5,116.2 314.0,115.3 315.5,115.3 317.0,115.7 318.5,116.0 320.0,115.3 321.5,115.7 323.0,115.6 324.5,115.4 326.0,115.1 327.5,115.6 329.0,114.7 330.5,115.0 332.0,115.9 333.5,115.5 335.0,115.0 336.5,115.3 338.0,114.6 339.5,114.8 341.0,115.0 342.5,115.2 344.0,115.2 345.5,115.2 347.0,114.9 348.5,114.6 350.0,115.4 351.5,115.0 353.0,114.3 354.5,113.9 356.0,114.1 357.5,115.7 359.0,114.2 360.5,114.7 362.0,114.7 363.5,114.6 365.0,114.3 365.0,118.4 363.5,118.9 362.0,118.5 360.5,118.7 359.0,118.3 357.5,119.6 356.0,118.3 354.5,118.4 353.0,118.7 351.5,118.7 350.0,119.5 348.5,118.5 347.0,118.8 345.5,118.8 344.0,119.4 342.5,119.5 341.0,119.0 339.5,118.3 338.0,118.9 336.5,119.3 335.0,118.8 333.5,119.0 332.0,120.1 330.5,119.1 329.0,118.5 327.5,119.4 326.0,119.3 324.5,119.3 323.0,119.2 321.5,119.8 320.0,119.4 318.5,120.0 317.0,119.3 315.5,119.5 314.0,119.6 312.5,120.2 311.0,118.9 309.5,119.8 308.0,118.9 306.5,120.4 305.0,119.9 303.5,119.3 302.0,119.8 300.5,119.1 299.0,119.4 297.5,119.5 296.0,119.4 294.5,120.5 293.0,120.0 291.5,119.3 290.0,120.4 288.5,120.1 287.0,119.5 285.5,120.3 284.0,119.8 282.5,120.1 281.0,120.2 279.5,119.4 278.0,119.5 276.5,119.9 275.0,120.5 273.5,120.0 272.0,119.6 270.5,120.0 269.0,120.1 267.5,119.5 266.0,119.8 264.5,119.6 263.0,120.0 261.5,119.3 260.0,119.7 258.5,119.2 257.0,118.8 255.5,119.3 254.0,118.2 252.5,119.4 251.0,118.4 249.5,118.6 248.0,118.7 246.5,118.7 245.0,119.2 243.5,118.3 242.0,117.8 240.5,118.2 239.0,117.8 237.5,117.8 236.0,117.9 234.5,117.7 233.0,118.2 231.5,117.5 230.0,118.0 228.5,117.8 227.0,118.1 225.5,117.5 224.0,118.6 222.5,118.6 221.0,118.1 219.5,119.7 218.0,118.7 216.5,118.7 215.0,118.5 213.5,118.5 212.0,119.6 210.5,119.5 209.0,119.8 207.5,119.8 206.0,119.1 204.5,120.1 203.0,119.7 201.5,119.8 200.0,120.4 198.5,120.9 197.0,120.2 195.5,120.5 194.0,120.3 192.5,120.9 191.0,120.3 189.5,120.4 188.0,121.0 186.5,120.8 185.0,120.9 183.5,121.1 182.0,121.1 180.5,121.5 179.0,122.0 177.5,121.1 176.0,120.5 174.5,121.8 173.0,121.0 171.5,121.7 170.0,120.1 168.5,120.5 167.0,121.0 165.5,120.9 164.0,120.3 162.5,120.7 161.0,120.4 159.5,121.1 158.0,121.6 156.5,121.0 155.0,121.4 153.5,121.7 152.0,121.7 150.5,121.4 149.0,121.3 147.5,120.8 146.0,120.2 144.5,120.5 143.0,120.8 141.5,121.2 140.0,120.4 138.5,119.8 137.0,120.1 135.5,120.1 134.0,119.7 132.5,120.0 131.0,119.2 129.5,119.4 128.0,120.0 126.5,119.7 125.0,119.9 123.5,120.3 122.0,120.4 120.5,120.8 119.0,120.4 117.5,120.2 116.0,120.3 114.5,120.0 113.0,121.1 111.5,119.6 110.0,120.4 108.5,119.6 107.0,119.8 105.5,120.5 104.0,120.1 102.5,119.7 101.0,119.6 99.5,119.6 98.0,119.8 96.5,119.7 95.0,118.9 93.5,119.6 92.0,119.4 90.5,119.2 89.0,119.9 87.5,119.9 86.0,120.4 84.5,121.2 83.0,120.3 81.5,121.3 80.0,121.1 78.5,121.5 77.0,121.5 75.5,122.0 74.0,121.7 72.5,120.5 71.0,120.8 69.5,121.1 68.0,121.6 66.5,121.2 65.0,121.0 63.5,121.5 62.0,121.5 60.5,120.3 59.0,121.0 57.5,121.0 56.0,120.0" fill="#fdcb8f" stroke="#fdcb8f" stroke-width="0.6" stroke-linejoin="round"/>
</g>
<polygon points="368.4,84.0 369.0,92.0 369.6,102.4 372.0,105.7 376.0,107.6 386.0,109.6 400.0,111.6 413.0,113.2 426.0,114.9 436.0,114.9 436.0,115.3 445.0,115.4 453.0,115.9 453.0,116.8 474.5,117.3 474.5,116.9 478.0,116.9 478.0,119.2 476.0,119.4 476.0,120.0 480.0,120.0 480.0,122.0 459.0,121.9 446.0,122.3 433.0,122.9 420.0,124.0 413.0,124.2 400.0,125.4 380.0,127.6 372.0,129.3 370.0,132.6 369.0,136.0 368.4,138.5" fill="#116be1"/>
<polygon points="368.4,113.8 369.5,114.2 373.0,114.9 380.0,115.3 400.0,115.8 430.0,116.4 453.0,116.6 474.8,116.9 474.8,118.4 453.0,119.4 430.0,120.2 400.0,120.8 380.0,121.4 372.0,122.0 368.4,122.5" fill="#fdcb8f"/>
<g stroke="#1a1a1a" stroke-width="1.15" fill="none" stroke-linecap="butt">
<path d="M55.5,202.2 V39.5 H365.3 V206.2"/>
</g>
<path d="M50.9,202.1 H365.3" stroke="#3a3a3a" stroke-width="1.5" fill="none"/>
<path d="M50.9,202.2 H55.5 M50.9,175.1 H55.5 M50.9,148.0 H55.5 M50.9,120.8 H55.5 M50.9,93.7 H55.5 M50.9,66.6 H55.5 M50.9,39.5 H55.5 M52.9,188.6 H55.5 M52.9,161.5 H55.5 M52.9,134.4 H55.5 M52.9,107.3 H55.5 M52.9,80.2 H55.5 M52.9,53.1 H55.5 M361.1,175.1 H365.3 M361.1,148.0 H365.3 M361.1,120.8 H365.3 M361.1,93.7 H365.3 M361.1,66.6 H365.3 M362.90000000000003,188.6 H365.3 M362.90000000000003,161.5 H365.3 M362.90000000000003,134.4 H365.3 M362.90000000000003,107.3 H365.3 M362.90000000000003,80.2 H365.3 M362.90000000000003,53.1 H365.3 M55.5,202.2 V206.6 M117.5,202.2 V206.6 M179.4,202.2 V206.6 M241.4,202.2 V206.6 M303.3,202.2 V206.6 M365.3,202.2 V206.6 M86.5,202.2 V204.79999999999998 M148.4,202.2 V204.79999999999998 M210.4,202.2 V204.79999999999998 M272.4,202.2 V204.79999999999998 M334.3,202.2 V204.79999999999998 M117.5,39.5 V44.2 M179.4,39.5 V44.2 M241.4,39.5 V44.2 M303.3,39.5 V44.2 M86.5,39.5 V41.9 M148.4,39.5 V41.9 M210.4,39.5 V41.9 M272.4,39.5 V41.9 M334.3,39.5 V41.9" stroke="#1a1a1a" stroke-width="1.1" fill="none"/>
<path d="M368.0,205.2 V39.5 H498.2 V202.2 H368.0" stroke="#4a4a4a" stroke-width="1.1" fill="none"/>
<path d="M400.6,39.5 V43.7 M433.1,39.5 V43.7 M465.6,39.5 V43.7 M384.3,39.5 V41.5 M416.8,39.5 V41.5 M449.4,39.5 V41.5 M481.9,39.5 V41.5 M493.59999999999997,175.1 H498.2 M493.59999999999997,148.0 H498.2 M493.59999999999997,120.8 H498.2 M493.59999999999997,93.7 H498.2 M493.59999999999997,66.6 H498.2 M495.59999999999997,188.6 H498.2 M495.59999999999997,161.5 H498.2 M495.59999999999997,134.4 H498.2 M495.59999999999997,107.3 H498.2 M495.59999999999997,80.2 H498.2 M495.59999999999997,53.1 H498.2 M400.6,202.2 V205.2 M433.1,202.2 V205.2 M465.6,202.2 V205.2 M384.3,202.2 V204.2 M416.8,202.2 V204.2 M449.4,202.2 V204.2 M481.9,202.2 V204.2" stroke="#1a1a1a" stroke-width="1.1" fill="none"/>
<g class="t12">
<text x="48.3" y="206.6" text-anchor="end">-300</text>
<text x="500.59999999999997" y="206.9" font-size="13.1">-300</text>
<text x="48.3" y="179.5" text-anchor="end">-200</text>
<text x="500.59999999999997" y="179.8" font-size="13.1">-200</text>
<text x="48.3" y="152.4" text-anchor="end">-100</text>
<text x="500.59999999999997" y="152.7" font-size="13.1">-100</text>
<text x="48.3" y="125.2" text-anchor="end">0</text>
<text x="500.59999999999997" y="125.5" font-size="13.1">0</text>
<text x="48.3" y="98.1" text-anchor="end">100</text>
<text x="500.59999999999997" y="98.4" font-size="13.1">100</text>
<text x="48.3" y="71.0" text-anchor="end">200</text>
<text x="500.59999999999997" y="71.3" font-size="13.1">200</text>
<text x="48.3" y="43.9" text-anchor="end">300</text>
<text x="500.59999999999997" y="44.2" font-size="13.1">300</text>
<text x="55.5" y="219" text-anchor="middle" font-size="12.3">0</text>
<text x="117.5" y="219" text-anchor="middle" font-size="12.3">200</text>
<text x="179.4" y="219" text-anchor="middle" font-size="12.3">400</text>
<text x="241.4" y="219" text-anchor="middle" font-size="12.3">600</text>
<text x="303.3" y="219" text-anchor="middle" font-size="12.3">800</text>
<text x="365.3" y="219" text-anchor="middle" font-size="12.3">1000</text>
<text x="368.0" y="33.2" text-anchor="middle" font-size="13.2">0</text>
<text x="400.6" y="33.2" text-anchor="middle" font-size="13.2">200</text>
<text x="433.1" y="33.2" text-anchor="middle" font-size="13.2">400</text>
<text x="465.6" y="33.2" text-anchor="middle" font-size="13.2">600</text>
</g>
<text x="210.2" y="235.6" text-anchor="middle" font-size="12.3">Time (s)</text>
<text x="434.9" y="13.3" text-anchor="middle" font-size="13.3">Count</text>
<text transform="translate(13.9,114.9) rotate(-90)" text-anchor="middle" font-size="12.4">Distance - 1,055,291 (µm)</text>
<text transform="translate(539.9,112.4) rotate(-90)" text-anchor="middle" font-size="13.4">Distance - 1,055,291 (µm)</text>
<text x="64.9" y="58.9" class="b" font-size="14.8" textLength="16.6" lengthAdjust="spacingAndGlyphs">(a)</text>
<rect x="64.3" y="164.9" width="166.4" height="32.4" fill="#fff" stroke="#4d4d4d" stroke-width="0.95"/>
<circle cx="89.5" cy="174.9" r="1.7" fill="#116be1"/><circle cx="89.5" cy="190.1" r="1.7" fill="#fdcb8f"/>
<text x="107.3" y="179.1" font-size="12.55" xml:space="preserve">Update rate of 10  Hz</text>
<text x="107.3" y="194.4" font-size="12.55">Update rate of 0.1 Hz</text>
<path d="M54.8,381.5 H498.2 M54.8,359.6 H498.2 M54.8,344.0 H498.2 M54.8,331.9 H498.2 M54.8,322.0 H498.2 M54.8,313.7 H498.2 M54.8,306.5 H498.2 M54.8,300.1 H498.2" stroke="#ececec" stroke-width="0.8" fill="none"/>
<polyline points="67.6,299.4 108.3,291.6 149.3,289.5 190.1,295.0 230.8,300.8 271.5,322.1 312.3,345.8 353.2,369.8 393.7,387.3 434.6,380.7 475.2,370.8" fill="none" stroke="#116be1" stroke-width="2.2" stroke-linejoin="round"/>
<g fill="#fff" stroke="#116be1" stroke-width="1.2">
<circle cx="67.6" cy="299.4" r="4.4"/>
<circle cx="108.3" cy="291.6" r="4.4"/>
<circle cx="149.3" cy="289.5" r="4.4"/>
<circle cx="190.1" cy="295.0" r="4.4"/>
<circle cx="230.8" cy="300.8" r="4.4"/>
<circle cx="271.5" cy="322.1" r="4.4"/>
<circle cx="312.3" cy="345.8" r="4.4"/>
<circle cx="353.2" cy="369.8" r="4.4"/>
<circle cx="393.7" cy="387.3" r="4.4"/>
<circle cx="434.6" cy="380.7" r="4.4"/>
<circle cx="475.2" cy="370.8" r="4.4"/>
</g>
<rect x="64.4" y="336.4" width="155.2" height="72.7" fill="#fff" stroke="#111" stroke-width="1.15"/>
<g class="b" font-size="12.4" style="fill:#000" stroke="#000" stroke-width="0.25">
<text x="74.5" y="354.1" textLength="122.8" lengthAdjust="spacingAndGlyphs">Measurement stability</text>
<text x="77.6" y="378.1" font-size="17" text-anchor="middle">•</text>
<text x="83.5" y="377.4" textLength="81" lengthAdjust="spacingAndGlyphs">9.5 µm @ 0.1 s</text>
<text x="77.6" y="401.6" font-size="17" text-anchor="middle">•</text>
<text x="83.5" y="400.3" textLength="77.4" lengthAdjust="spacingAndGlyphs">2.5 µm @ 10 s</text>
</g>
<text x="65.1" y="279.4" class="b" font-size="14.8" textLength="16.8" lengthAdjust="spacingAndGlyphs">(b)</text>
<rect x="54.8" y="256.8" width="443.4" height="162.39999999999998" fill="none" stroke="#000" stroke-width="1.35"/>
<path d="M52.199999999999996,256.8 H54.8 M54.8,419.2 V421.59999999999997 M50.199999999999996,419.0 H54.8 M50.199999999999996,294.4 H54.8 M493.4,294.4 H498.2 M52.199999999999996,381.5 H54.8 M495.59999999999997,381.5 H498.2 M52.199999999999996,359.6 H54.8 M495.59999999999997,359.6 H498.2 M52.199999999999996,344.0 H54.8 M495.59999999999997,344.0 H498.2 M52.199999999999996,331.9 H54.8 M495.59999999999997,331.9 H498.2 M52.199999999999996,322.0 H54.8 M495.59999999999997,322.0 H498.2 M52.199999999999996,313.7 H54.8 M495.59999999999997,313.7 H498.2 M52.199999999999996,306.5 H54.8 M495.59999999999997,306.5 H498.2 M52.199999999999996,300.1 H54.8 M495.59999999999997,300.1 H498.2 M67.7,419.2 V423.4 M67.7,256.8 V261.2 M203.1,419.2 V423.4 M203.1,256.8 V261.2 M338.5,419.2 V423.4 M338.5,256.8 V261.2 M473.9,419.2 V423.4 M473.9,256.8 V261.2 M61.5,419.2 V421.59999999999997 M61.5,256.8 V259.2 M108.5,419.2 V421.59999999999997 M108.5,256.8 V259.2 M132.3,419.2 V421.59999999999997 M132.3,256.8 V259.2 M149.2,419.2 V421.59999999999997 M149.2,256.8 V259.2 M162.3,419.2 V421.59999999999997 M162.3,256.8 V259.2 M173.1,419.2 V421.59999999999997 M173.1,256.8 V259.2 M182.1,419.2 V421.59999999999997 M182.1,256.8 V259.2 M190.0,419.2 V421.59999999999997 M190.0,256.8 V259.2 M196.9,419.2 V421.59999999999997 M196.9,256.8 V259.2 M243.9,419.2 V421.59999999999997 M243.9,256.8 V259.2 M267.7,419.2 V421.59999999999997 M267.7,256.8 V259.2 M284.6,419.2 V421.59999999999997 M284.6,256.8 V259.2 M297.7,419.2 V421.59999999999997 M297.7,256.8 V259.2 M308.5,419.2 V421.59999999999997 M308.5,256.8 V259.2 M317.5,419.2 V421.59999999999997 M317.5,256.8 V259.2 M325.4,419.2 V421.59999999999997 M325.4,256.8 V259.2 M332.3,419.2 V421.59999999999997 M332.3,256.8 V259.2 M379.3,419.2 V421.59999999999997 M379.3,256.8 V259.2 M403.1,419.2 V421.59999999999997 M403.1,256.8 V259.2 M420.0,419.2 V421.59999999999997 M420.0,256.8 V259.2 M433.1,419.2 V421.59999999999997 M433.1,256.8 V259.2 M443.9,419.2 V421.59999999999997 M443.9,256.8 V259.2 M452.9,419.2 V421.59999999999997 M452.9,256.8 V259.2 M460.8,419.2 V421.59999999999997 M460.8,256.8 V259.2 M467.7,419.2 V421.59999999999997 M467.7,256.8 V259.2" stroke="#1a1a1a" stroke-width="1.0" fill="none"/>
<text x="57.6" y="438.3" font-size="12.3">10</text><text x="71.1" y="432.1" font-size="7.9">-1</text>
<text x="194.4" y="438.3" font-size="12.3">10</text><text x="207.8" y="432.1" font-size="7.9">0</text>
<text x="329.8" y="438.3" font-size="12.3">10</text><text x="343.2" y="432.1" font-size="7.9">1</text>
<text x="465.2" y="438.3" font-size="12.3">10</text><text x="478.6" y="432.1" font-size="7.9">2</text>
<text x="27.2" y="298.5" font-size="12.3">10</text><text x="40.7" y="292.3" font-size="7.9">-5</text>
<text x="27.2" y="423.2" font-size="12.3">10</text><text x="40.7" y="417.0" font-size="7.9">-6</text>
<text x="276.1" y="450.3" text-anchor="middle" font-size="12.5">Averaging time (s)</text>
<text transform="translate(19.3,337.4) rotate(-90)" text-anchor="middle" font-size="12.5">Allan deviation of distance (m)</text>
</svg></body></html>
